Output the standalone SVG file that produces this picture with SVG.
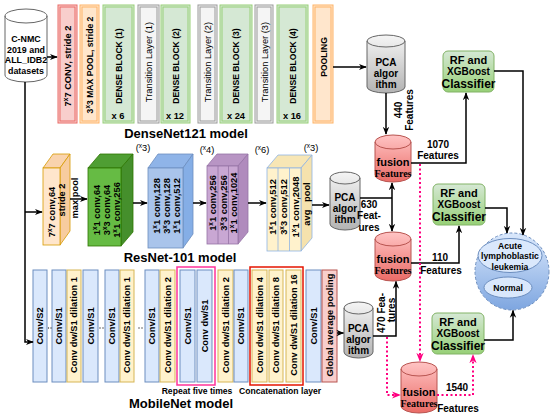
<svg xmlns="http://www.w3.org/2000/svg" width="550" height="420" viewBox="0 0 550 420">
<style>
text{font-family:"Liberation Sans",Arial,sans-serif;font-weight:bold;fill:#000}
.n{font-weight:normal}
.c{text-anchor:middle;dominant-baseline:central}
.f8{font-size:8.6px}.f9{font-size:9.3px}.f10{font-size:10px}.f11{font-size:11px}.f12{font-size:12px}.f13{font-size:13px}
.fd{font-size:8.9px}.fe{font-size:8.6px}
.ln{fill:none;stroke:#000;stroke-width:1.5}
.pk{fill:none;stroke:#ff0080;stroke-width:2;stroke-dasharray:2 2.5}
.red{fill:#f8cecc;stroke:#ea6b66}
.org{fill:#ffe6cc;stroke:#ffb366}
.grn{fill:#d5e8d4;stroke:#97d077}
.gry{fill:#f5f5f5;stroke:#999}
.in{fill:none}
.mb{fill:#dae8fc;stroke:#6c8ebf}
.my{fill:#fff2cc;stroke:#d6b656}
.mp{fill:#f8cecc;stroke:#b85450}
.cyl{stroke:#666;stroke-width:1}
.ser{font-family:"Liberation Serif","Times New Roman",serif}
</style>
<defs>
<marker id="ah" viewBox="0 0 10 10" refX="9" refY="5" markerWidth="8" markerHeight="8" markerUnits="userSpaceOnUse" orient="auto-start-reverse"><path d="M0,1 L10,5 L0,9 L3,5 z" fill="#000"/></marker>
<marker id="ahp" viewBox="0 0 10 10" refX="9" refY="5" markerWidth="9" markerHeight="9" markerUnits="userSpaceOnUse" orient="auto"><path d="M0,1 L10,5 L0,9 L3,5 z" fill="#ff0080"/></marker>
<linearGradient id="gGray" x1="0" y1="0" x2="0" y2="1"><stop offset="0" stop-color="#f5f5f5"/><stop offset="1" stop-color="#b3b3b3"/></linearGradient>
<linearGradient id="gRed" x1="0" y1="0" x2="0" y2="1"><stop offset="0" stop-color="#ffc4c4"/><stop offset="1" stop-color="#ea6b66"/></linearGradient>
<linearGradient id="gGreen" x1="0" y1="0" x2="0" y2="1"><stop offset="0" stop-color="#d5e8d4"/><stop offset="1" stop-color="#97d077"/></linearGradient>
<linearGradient id="gBlue" x1="0" y1="0" x2="0" y2="1"><stop offset="0" stop-color="#dae8fc"/><stop offset="1" stop-color="#7ea6e0"/></linearGradient>
</defs>

<!-- dataset -->
<g id="dataset">
<path class="cyl" fill="#fff" d="M5,16 a21,7 0 0 1 42,0 v59 a21,7 0 0 1 -42,0 z"/>
<path class="cyl" fill="none" d="M5,16 a21,7 0 0 0 42,0"/>
<text class="c fd" x="26" y="39">C-NMC</text>
<text class="c fd" x="26" y="49.5">2019 and</text>
<text class="c fd" x="26" y="60">ALL_IDB2</text>
<text class="c fd" x="26" y="70.5">datasets</text>
</g>

<!-- DenseNet -->
<g id="densenet">
<g id="d-conv7"><rect class="red" x="58" y="5" width="19" height="118"/><rect class="red in" x="60" y="7" width="15" height="114"/>
<text class="c f9" transform="translate(68,66) rotate(-90)">7<tspan font-size="6.5" dy="-3">x</tspan><tspan dy="3">7 CONV, stride 2</tspan></text></g>
<g id="d-pool1"><rect class="org" x="80" y="5" width="19" height="118"/><rect class="org in" x="82" y="7" width="15" height="114"/>
<text class="c f8" transform="translate(90,65) rotate(-90)">3<tspan font-size="6.5" dy="-3">x</tspan><tspan dy="3">3 MAX POOL, stride 2</tspan></text></g>
<g id="d-db1"><rect class="grn" x="103" y="5" width="31" height="118"/><rect class="grn in" x="105" y="7" width="27" height="114"/>
<text class="c f8" transform="translate(119,66) rotate(-90)">DENSE BLOCK (1)</text><text class="c f9" x="118" y="116">x 6</text></g>
<g id="d-tl1"><rect class="gry" x="138" y="5" width="21" height="118"/><rect class="gry in" x="140" y="7" width="17" height="114"/>
<text class="c f9 n" transform="translate(149,62) rotate(-90)">Transition Layer (1)</text></g>
<g id="d-db2"><rect class="grn" x="161" y="5" width="29" height="118"/><rect class="grn in" x="163" y="7" width="25" height="114"/>
<text class="c f8" transform="translate(176,66) rotate(-90)">DENSE BLOCK (2)</text><text class="c f9" x="175" y="116">x 12</text></g>
<g id="d-tl2"><rect class="gry" x="198" y="5" width="19" height="118"/><rect class="gry in" x="200" y="7" width="15" height="114"/>
<text class="c f9 n" transform="translate(208,62) rotate(-90)">Transition Layer (2)</text></g>
<g id="d-db3"><rect class="grn" x="220" y="5" width="32" height="118"/><rect class="grn in" x="222" y="7" width="28" height="114"/>
<text class="c f8" transform="translate(236,66) rotate(-90)">DENSE BLOCK (3)</text><text class="c f9" x="236" y="116">x 24</text></g>
<g id="d-tl3"><rect class="gry" x="255" y="5" width="18" height="118"/><rect class="gry in" x="257" y="7" width="14" height="114"/>
<text class="c f9 n" transform="translate(264.5,62) rotate(-90)">Transition Layer (3)</text></g>
<g id="d-db4"><rect class="grn" x="277" y="5" width="31" height="118"/><rect class="grn in" x="279" y="7" width="27" height="114"/>
<text class="c f8" transform="translate(293,66) rotate(-90)">DENSE BLOCK (4)</text><text class="c f9" x="292" y="116">x 16</text></g>
<g id="d-pool"><rect class="org" x="313" y="5" width="20" height="118"/><rect class="org in" x="315" y="7" width="16" height="114"/>
<text class="c f8" transform="translate(323.5,57) rotate(-90)">POOLING</text></g>
<text class="c f13" x="186" y="133">DenseNet121 model</text>
</g>

<!-- ResNet -->
<g id="resnet">
<g id="r-conv7">
<polygon points="43,168 53,154 70,154 60,168" fill="#f9d3ae" stroke="#d79b00" stroke-width="0.8"/>
<polygon points="60,168 70,154 70,231 60,245" fill="#f7cc9f" stroke="#d79b00" stroke-width="0.8"/>
<rect x="43" y="168" width="17" height="77" fill="#ffe6cc" stroke="#d79b00" stroke-width="0.8"/>
<text class="c f9" transform="translate(52,212) rotate(-90)">7<tspan font-size="6.5" dy="-3">x</tspan><tspan dy="3">7 conv,64</tspan></text>
<text class="c f9" transform="translate(62,200) rotate(-90)">stride 2</text>
</g>
<text class="c f9" transform="translate(75,198) rotate(-90)">max pool</text>
<g id="r-b1">
<polygon points="88,168 100,154 133,154 121,168" fill="#4f9e33" stroke="#2d7600" stroke-width="0.8"/>
<polygon points="121,168 133,154 133,232 121,246" fill="#458f2c" stroke="#2d7600" stroke-width="0.8"/>
<rect x="88" y="168" width="33" height="78" fill="#66bb44" stroke="#2d7600" stroke-width="0.8"/>
<text class="c f9" transform="translate(97,210) rotate(-90)">1<tspan font-size="6.5" dy="-3">x</tspan><tspan dy="3">1 conv,64</tspan></text>
<text class="c f9" transform="translate(107,210) rotate(-90)">3<tspan font-size="6.5" dy="-3">x</tspan><tspan dy="3">3 conv,64</tspan></text>
<text class="c f9" transform="translate(117,210) rotate(-90)">1<tspan font-size="6.5" dy="-3">x</tspan><tspan dy="3">1 conv,256</tspan></text>
<text class="c f9 n" x="143" y="148">(<tspan font-size="6.5" dy="-3">x</tspan><tspan dy="3">3)</tspan></text>
</g>
<g id="r-b2">
<polygon points="148,168 158,154 193,154 183,168" fill="#8fb4e8" stroke="#6c8ebf" stroke-width="0.8"/>
<polygon points="183,168 193,154 193,234 183,248" fill="#85aee6" stroke="#6c8ebf" stroke-width="0.8"/>
<rect x="148" y="168" width="35" height="80" fill="#a9c4eb" stroke="#6c8ebf" stroke-width="0.8"/>
<text class="c f9" transform="translate(157,206) rotate(-90)">1<tspan font-size="6.5" dy="-3">x</tspan><tspan dy="3">1 conv,128</tspan></text>
<text class="c f9" transform="translate(166.5,206) rotate(-90)">3<tspan font-size="6.5" dy="-3">x</tspan><tspan dy="3">3 conv,128</tspan></text>
<text class="c f9" transform="translate(176.5,206) rotate(-90)">1<tspan font-size="6.5" dy="-3">x</tspan><tspan dy="3">1 conv,512</tspan></text>
<text class="c f9 n" x="207" y="150">(<tspan font-size="6.5" dy="-3">x</tspan><tspan dy="3">4)</tspan></text>
</g>
<g id="r-b3">
<polygon points="207,166 217,154 248,154 238,166" fill="#b895c4" stroke="#9673a6" stroke-width="0.8"/>
<polygon points="238,166 248,154 248,232 238,244" fill="#b08bbd" stroke="#9673a6" stroke-width="0.8"/>
<rect x="207" y="166" width="31" height="78" fill="#c9a7d3" stroke="#9673a6" stroke-width="0.8"/>
<line x1="218" y1="166" x2="218" y2="244" stroke="#9673a6" stroke-width="0.8"/>
<line x1="228.5" y1="166" x2="228.5" y2="244" stroke="#9673a6" stroke-width="0.8"/>
<text class="c f9" transform="translate(213,203) rotate(-90)">1<tspan font-size="6.5" dy="-3">x</tspan><tspan dy="3">1 conv,256</tspan></text>
<text class="c f9" transform="translate(223.5,203) rotate(-90)">3<tspan font-size="6.5" dy="-3">x</tspan><tspan dy="3">3 conv,256</tspan></text>
<text class="c f9" transform="translate(234,203) rotate(-90)">1<tspan font-size="6.5" dy="-3">x</tspan><tspan dy="3">1 conv,1024</tspan></text>
<text class="c f9 n" x="262" y="150">(<tspan font-size="6.5" dy="-3">x</tspan><tspan dy="3">6)</tspan></text>
</g>
<g id="r-b4">
<polygon points="267,168 278,155 312,155 301,168" fill="#f7e6b5" stroke="#8fb4e3" stroke-width="0.8"/>
<polygon points="301,168 312,155 312,238 301,251" fill="#f5e2ad" stroke="#8fb4e3" stroke-width="0.8"/>
<rect x="267" y="168" width="34" height="83" fill="#fff2cc" stroke="#8fb4e3" stroke-width="0.8"/>
<line x1="278" y1="168" x2="278" y2="251" stroke="#8fb4e3" stroke-width="0.8"/>
<line x1="289.5" y1="168" x2="289.5" y2="251" stroke="#8fb4e3" stroke-width="0.8"/>
<text class="c f9" transform="translate(273,207) rotate(-90)">1<tspan font-size="6.5" dy="-3">x</tspan><tspan dy="3">1 conv,512</tspan></text>
<text class="c f9" transform="translate(284,207) rotate(-90)">3<tspan font-size="6.5" dy="-3">x</tspan><tspan dy="3">3 conv,512</tspan></text>
<text class="c f9" transform="translate(295.5,207) rotate(-90)">1<tspan font-size="6.5" dy="-3">x</tspan><tspan dy="3">1 conv,2048</tspan></text>
<text class="c f9" transform="translate(306.5,204) rotate(-90)" xml:space="preserve">avg   pool</text>
<text class="c f9 n" x="311" y="148">(<tspan font-size="6.5" dy="-3">x</tspan><tspan dy="3">3)</tspan></text>
</g>
<text class="c f13" x="180" y="257">ResNet-101 model</text>
</g>

<!-- MobileNet -->
<g id="mobilenet">
<rect fill="none" stroke="#ff3399" stroke-width="1.5" x="177" y="267" width="38" height="118"/>
<rect fill="none" stroke="#e51400" stroke-width="1.5" x="250" y="267" width="53" height="118"/>
<g id="m1"><rect class="mb" x="33" y="270" width="14" height="112"/><text class="c f9" transform="translate(40,326) rotate(-90)">Conv/S2</text></g>
<g id="m2"><rect class="mb" x="52" y="270" width="14" height="112"/><text class="c f9" transform="translate(59,326) rotate(-90)">Conv/S1</text></g>
<g id="m3"><rect class="my" x="67" y="270" width="14" height="112"/><text class="c f9" transform="translate(74,325) rotate(-90)">Conv dw/S1 dilation 1</text></g>
<g id="m4"><rect class="mb" x="83" y="270" width="15" height="112"/><text class="c f9" transform="translate(90.5,326) rotate(-90)">Conv/S1</text></g>
<g id="m5"><rect class="mb" x="105" y="270" width="14" height="112"/><text class="c f9" transform="translate(112,326) rotate(-90)">Conv/S1</text></g>
<g id="m6"><rect class="my" x="120" y="270" width="14" height="112"/><text class="c f9" transform="translate(127,325) rotate(-90)">Conv dw/S1 dilation 1</text></g>
<g id="m7"><rect class="mb" x="145" y="270" width="14" height="112"/><text class="c f9" transform="translate(152,326) rotate(-90)">Conv/S1</text></g>
<g id="m8"><rect class="my" x="160" y="270" width="15" height="112"/><text class="c f9" transform="translate(167.5,325) rotate(-90)">Conv dw/S1 dilation 2</text></g>
<g id="m9"><rect class="mb" x="180" y="270" width="15" height="112"/><text class="c f9" transform="translate(187.5,326) rotate(-90)">Conv/S1</text></g>
<g id="m10"><rect class="mb" x="197" y="270" width="15" height="112"/><text class="c f9" transform="translate(204.5,326) rotate(-90)">Conv dw/S1</text></g>
<g id="m11"><rect class="my" x="218" y="270" width="15" height="112"/><text class="c f9" transform="translate(225.5,325) rotate(-90)">Conv dw/S1 dilation 2</text></g>
<g id="m12"><rect class="mb" x="234" y="270" width="14" height="112"/><text class="c f9" transform="translate(241,326) rotate(-90)">Conv/S1</text></g>
<g id="m13"><rect class="my" x="252" y="270" width="15" height="112"/><text class="c f9" transform="translate(259.5,325) rotate(-90)">Conv dw/S1 dilation 4</text></g>
<g id="m14"><rect class="my" x="269" y="270" width="14" height="112"/><text class="c f9" transform="translate(276,325) rotate(-90)">Conv dw/S1 dilation 8</text></g>
<g id="m15"><rect class="my" x="286" y="270" width="15" height="112"/><text class="c f9" transform="translate(293.5,325) rotate(-90)">Conv dw/S1 dilation 16</text></g>
<g id="m16"><rect class="mb" x="306" y="270" width="15" height="112"/><text class="c f9" transform="translate(313.5,326) rotate(-90)">Conv/S1</text></g>
<g id="m17"><rect class="mp" x="322" y="270" width="15" height="112"/><text class="c f9" transform="translate(329.5,325) rotate(-90)">Global average pooling</text></g>
<g fill="#333"><circle cx="48.5" cy="328" r="0.7"/><circle cx="51" cy="328" r="0.7"/><circle cx="100" cy="328" r="0.7"/><circle cx="103" cy="328" r="0.7"/><circle cx="139" cy="328" r="0.7"/><circle cx="142" cy="328" r="0.7"/></g>
<text class="c f8" x="197" y="391">Repeat five times</text>
<text class="c f8" x="280" y="391">Concatenation layer</text>
<text class="c f13" x="181" y="403">MobileNet model</text>
</g>

<!-- PCA -->
<g id="pca1">
<path class="cyl" fill="url(#gGray)" d="M367,41 a19,6 0 0 1 38,0 v46 a19,6 0 0 1 -38,0 z"/>
<path class="cyl" fill="none" d="M367,41 a19,6 0 0 0 38,0"/>
<text class="c f10" x="386" y="62">PCA</text><text class="c f10" x="386" y="73">algor</text><text class="c f10" x="386" y="84">ithm</text>
</g>
<g id="pca2">
<path class="cyl" fill="url(#gGray)" d="M330,178 a15,6 0 0 1 30,0 v46 a15,6 0 0 1 -30,0 z"/>
<path class="cyl" fill="none" d="M330,178 a15,6 0 0 0 30,0"/>
<text class="c f10" x="345" y="197">PCA</text><text class="c f10" x="345" y="208">algor</text><text class="c f10" x="345" y="219">ithm</text>
</g>
<g id="pca3">
<path class="cyl" fill="url(#gGray)" d="M344,308 a14.5,6 0 0 1 29,0 v44 a14.5,6 0 0 1 -29,0 z"/>
<path class="cyl" fill="none" d="M344,308 a14.5,6 0 0 0 29,0"/>
<text class="c f10" x="358.5" y="328">PCA</text><text class="c f10" x="358.5" y="339">algor</text><text class="c f10" x="358.5" y="350">ithm</text>
</g>

<!-- fusion -->
<g id="fusion1">
<path fill="url(#gRed)" stroke="#b85450" d="M375,142 a18,7 0 0 1 36,0 v33 a18,7 0 0 1 -36,0 z"/>
<path fill="none" stroke="#b85450" d="M375,142 a18,7 0 0 0 36,0"/>
<text class="c f11" x="393" y="162">fusion</text><text class="c f10 ser" x="393" y="173">Features</text>
</g>
<g id="fusion2">
<path fill="url(#gRed)" stroke="#b85450" d="M375,239 a18,7 0 0 1 36,0 v35 a18,7 0 0 1 -36,0 z"/>
<path fill="none" stroke="#b85450" d="M375,239 a18,7 0 0 0 36,0"/>
<text class="c f11" x="393" y="259">fusion</text><text class="c f10 ser" x="393" y="270">Features</text>
</g>
<g id="fusion3">
<path fill="url(#gRed)" stroke="#b85450" d="M401,369 a18,7 0 0 1 36,0 v37 a18,7 0 0 1 -36,0 z"/>
<path fill="none" stroke="#b85450" d="M401,369 a18,7 0 0 0 36,0"/>
<text class="c f11" x="419" y="392">fusion</text><text class="c f10 ser" x="419" y="403">Features</text>
</g>

<!-- classifiers -->
<g id="clf1">
<rect x="443" y="51" width="51" height="41" rx="5" fill="url(#gGreen)" stroke="#82b366"/>
<text class="c f11" x="468.5" y="59.5">RF and</text><text class="c f10" x="468.5" y="71.5">XGBoost</text><text class="c f12" x="468.5" y="84">Classifier</text>
</g>
<g id="clf2">
<rect x="433" y="184" width="52" height="41" rx="5" fill="url(#gGreen)" stroke="#82b366"/>
<text class="c f11" x="459" y="192.5">RF and</text><text class="c f10" x="459" y="204.5">XGBoost</text><text class="c f12" x="459" y="217">Classifier</text>
</g>
<g id="clf3">
<rect x="432" y="313" width="52" height="41" rx="5" fill="url(#gGreen)" stroke="#82b366"/>
<text class="c f11" x="458" y="321.5">RF and</text><text class="c f10" x="458" y="333.5">XGBoost</text><text class="c f12" x="458" y="346">Classifier</text>
</g>

<!-- result -->
<g id="result">
<ellipse cx="512" cy="271.5" rx="37" ry="38.5" fill="url(#gBlue)" stroke="#6c8ebf" stroke-dasharray="3 2"/>
<ellipse cx="510" cy="255.5" rx="32" ry="17" fill="#dae8fc" stroke="#6c8ebf"/>
<text class="c fe" x="510" y="245.5">Acute</text><text class="c fe" x="510" y="256">lymphoblastic</text><text class="c fe" x="510" y="266.5">leukemia</text>
<ellipse cx="508" cy="287.5" rx="24" ry="10.5" fill="#dae8fc" stroke="#6c8ebf"/>
<text class="c fe" x="508" y="288">Normal</text>
</g>

<!-- labels -->
<g id="labels">
<text class="c f10" transform="translate(398,110) rotate(-90)">440</text>
<text class="c f10" transform="translate(409,110) rotate(-90)">Features</text>
<text class="c f10" x="438" y="144">1070</text><text class="c f10" x="438" y="155">Features</text>
<text class="c f10" x="369" y="204">630</text><text class="c f10" x="369" y="215.5">Feat-</text><text class="c f10" x="369" y="227">ures</text>
<text class="c f10" x="440" y="257">110</text><text class="c f10" x="441" y="270">Features</text>
<text class="c f10" transform="translate(381,313) rotate(-90)">470 Fea-</text>
<text class="c f10" transform="translate(391.5,310) rotate(-90)">tures</text>
<text class="c f10" x="457" y="387">1540</text><text class="c f10" x="458" y="408">Features</text>
</g>

<!-- connectors -->
<g id="connectors">
<path class="ln" d="M47,57 H57" marker-end="url(#ah)"/>
<path class="ln" d="M25,82 V342 H33" marker-end="url(#ah)"/>
<path class="ln" d="M25,212 H42" marker-end="url(#ah)"/>
<path class="ln" d="M333,67 H366" marker-end="url(#ah)"/>
<path class="ln" d="M386,93 V134" marker-end="url(#ah)"/>
<path class="ln" d="M411,163 H466 V93" marker-end="url(#ah)"/>
<path class="ln" d="M494,71 H523 V235" marker-end="url(#ah)"/>
<path class="ln" d="M70,199 H87" marker-end="url(#ah)"/>
<path class="ln" d="M133,203 H147" marker-end="url(#ah)"/>
<path class="ln" d="M193,203 H206" marker-end="url(#ah)"/>
<path class="ln" d="M248,203 H266" marker-end="url(#ah)"/>
<path class="ln" d="M312,205 H329" marker-end="url(#ah)"/>
<path class="ln" d="M360,198 H392"/>
<path class="ln" d="M392,183 V231" marker-start="url(#ah)" marker-end="url(#ah)"/>
<path class="ln" d="M411,263 H459 V226" marker-end="url(#ah)"/>
<path class="ln" d="M485,208 H507 V233" marker-end="url(#ah)"/>
<path class="ln" d="M337,333 H343.5" marker-end="url(#ah)"/>
<path class="ln" d="M373,336 H396 V281.5" marker-end="url(#ah)"/>
<path class="ln" d="M484,340 H513 V310.5" marker-end="url(#ah)"/>
<path class="pk" d="M420,164 V361" marker-end="url(#ahp)"/>
<path class="pk" d="M387,337 V395 H400" marker-end="url(#ahp)"/>
<path class="pk" d="M437,395 H473 V355" marker-end="url(#ahp)"/>
</g>
</svg>
